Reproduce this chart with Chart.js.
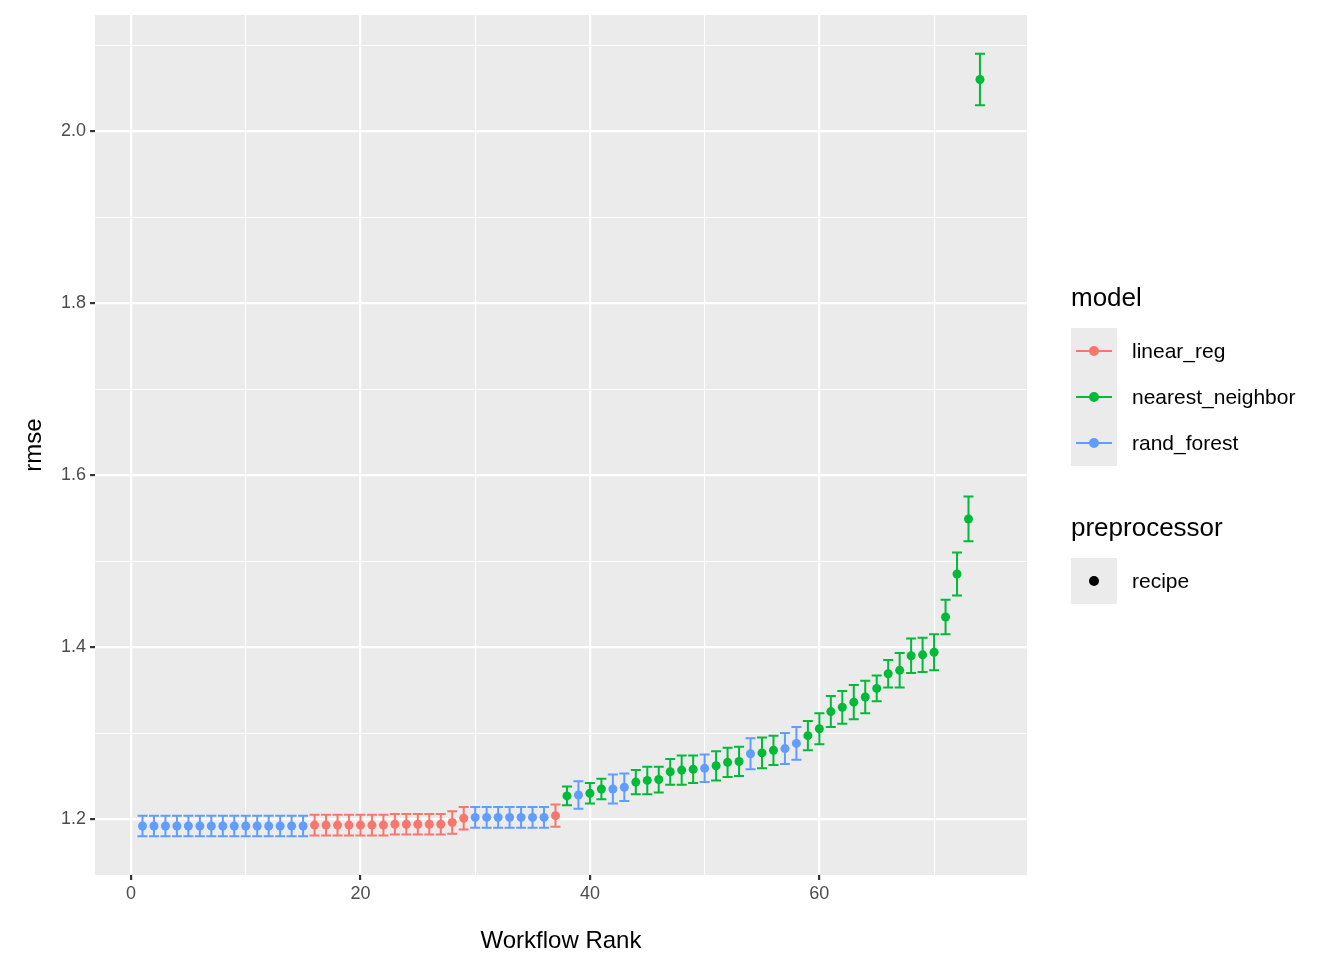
<!DOCTYPE html>
<html><head><meta charset="utf-8">
<script src="https://cdn.jsdelivr.net/npm/chart.js@4"></script>
<style>
body{margin:0;background:#fff;font-family:"Liberation Sans",Arial,sans-serif}
#wrap{position:relative;width:1344px;height:960px}
#legend{position:absolute;left:1071px;top:282px;color:#000}
.ttl{font-size:26px;margin-bottom:15px}
.key{display:flex;align-items:center;height:46px;font-size:21px}
.box{width:46px;height:46px;background:#ebebeb;position:relative;margin-right:15px}
.box .ln{position:absolute;left:5px;right:5px;top:22px;height:2px}
.box .dt{position:absolute;left:18px;top:18px;width:10px;height:10px;border-radius:50%}
</style></head><body>
<div id="wrap"><canvas id="c" width="1344" height="960"></canvas>
<div id="legend"></div></div>
<script>
const rank = Array.from({length: 74}, (_, i) => i + 1);
const rmse = [
  1.192,1.192,1.192,1.192,1.192,1.192,1.192,1.192,1.192,1.192,1.192,1.192,1.192,1.192,1.192,
  1.193,1.193,1.193,1.193,1.193,1.193,1.193,1.194,1.194,1.194,1.194,1.194,1.196,1.201,
  1.202,1.202,1.202,1.202,1.202,1.202,1.202,1.204,
  1.227,1.228,1.230,1.235,1.235,1.237,1.243,1.245,1.246,1.255,1.257,1.258,1.259,1.262,
  1.266,1.267,1.276,1.277,1.280,1.282,1.288,1.297,1.305,1.325,1.330,1.336,1.342,1.352,
  1.369,1.373,1.390,1.391,1.394,1.435,1.485,1.549,2.060
];
const stdErr = [
  0.012,0.012,0.012,0.012,0.012,0.012,0.012,0.012,0.012,0.012,0.012,0.012,0.012,0.012,0.012,
  0.012,0.012,0.012,0.012,0.012,0.012,0.012,0.012,0.012,0.012,0.012,0.012,0.013,0.013,
  0.012,0.012,0.012,0.012,0.012,0.012,0.012,0.013,
  0.011,0.016,0.012,0.012,0.017,0.016,0.014,0.016,0.015,0.015,0.017,0.016,0.016,0.017,
  0.017,0.017,0.018,0.018,0.017,0.018,0.019,0.017,0.018,0.018,0.019,0.020,0.019,0.015,
  0.016,0.020,0.020,0.020,0.021,0.020,0.025,0.026,0.030
];
const model = [];
for (let i = 1; i <= 74; i++) {
  let m = "nearest_neighbor";
  if (i <= 15) m = "rand_forest";
  else if (i <= 29) m = "linear_reg";
  else if (i <= 36) m = "rand_forest";
  else if (i === 37) m = "linear_reg";
  else if ([39, 42, 43, 50, 54, 57, 58].includes(i)) m = "rand_forest";
  model.push(m);
}
const modelNames = ["linear_reg", "nearest_neighbor", "rand_forest"];
const modelColors = {linear_reg: "#F8766D", nearest_neighbor: "#00BA38", rand_forest: "#619CFF"};

const errorBars = {
  id: "errorBars",
  beforeDraw(chart) {
    const {ctx, chartArea: a} = chart;
    ctx.save();
    ctx.fillStyle = "#ebebeb";
    ctx.fillRect(a.left, a.top, a.right - a.left, a.bottom - a.top);
    ctx.restore();
  },
  beforeDatasetsDraw(chart) {
    const {ctx, scales: {x, y}} = chart;
    ctx.save();
    ctx.lineWidth = 2;
    rank.forEach((r, i) => {
      const px = x.getPixelForValue(r);
      const lo = y.getPixelForValue(rmse[i] - stdErr[i]);
      const hi = y.getPixelForValue(rmse[i] + stdErr[i]);
      ctx.strokeStyle = modelColors[model[i]];
      ctx.beginPath();
      ctx.moveTo(px, lo); ctx.lineTo(px, hi);
      ctx.moveTo(px - 5, lo); ctx.lineTo(px + 5, lo);
      ctx.moveTo(px - 5, hi); ctx.lineTo(px + 5, hi);
      ctx.stroke();
    });
    ctx.restore();
  }
};

const major = (v, step) => Math.abs(Math.round(v / step) * step - v) < 1e-6;

new Chart(document.getElementById("c"), {
  type: "scatter",
  data: {
    datasets: [{
      data: rank.map((r, i) => ({x: r, y: rmse[i]})),
      pointBackgroundColor: model.map(m => modelColors[m]),
      pointBorderWidth: 0,
      pointRadius: 4.5
    }]
  },
  options: {
    responsive: false,
    animation: false,
    layout: {padding: {top: 15, right: 317, left: 16, bottom: 0}},
    plugins: {legend: {display: false}, tooltip: {enabled: false}},
    scales: {
      x: {
        min: -3.14, max: 78.1,
        afterBuildTicks: s => { s.ticks = [0,10,20,30,40,50,60,70].map(v => ({value: v})); },
        afterFit: s => { s.height = 85; },
        ticks: {
          color: "#4d4d4d", font: {size: 18, family: "Liberation Sans"}, padding: 3,
          callback: v => major(v, 20) ? v : ""
        },
        grid: {
          color: "#fff",
          lineWidth: c => major(c.tick.value, 20) ? 2.2 : 1.1,
          tickColor: c => major(c.tick.value, 20) ? "#333" : "rgba(0,0,0,0)",
          tickLength: 5, drawTicks: true
        },
        border: {display: false},
        title: {display: true, text: "Workflow Rank", color: "#000", font: {size: 24, family: "Liberation Sans"}, padding: {top: -4}}
      },
      y: {
        min: 1.135, max: 2.135,
        afterBuildTicks: s => { s.ticks = [1.2,1.3,1.4,1.5,1.6,1.7,1.8,1.9,2.0,2.1].map(v => ({value: v})); },
        afterFit: s => { s.width = 79; },
        ticks: {
          color: "#4d4d4d", font: {size: 18, family: "Liberation Sans"}, padding: 4,
          callback: v => major(v, 0.2) && v < 2.05 ? v.toFixed(1) : ""
        },
        grid: {
          color: "#fff",
          lineWidth: c => major(c.tick.value, 0.2) && c.tick.value < 2.05 ? 2.2 : 1.1,
          tickColor: c => major(c.tick.value, 0.2) && c.tick.value < 2.05 ? "#333" : "rgba(0,0,0,0)",
          tickLength: 5
        },
        border: {display: false},
        title: {display: true, text: "rmse", color: "#000", font: {size: 24, family: "Liberation Sans"}, padding: {bottom: 4}}
      }
    }
  },
  plugins: [errorBars]
});

let html = '<div class="ttl">model</div>';
modelNames.forEach(m => {
  html += `<div class="key"><div class="box"><div class="ln" style="background:${modelColors[m]}"></div><div class="dt" style="background:${modelColors[m]}"></div></div>${m}</div>`;
});
html += '<div class="ttl" style="margin-top:46px">preprocessor</div>';
html += '<div class="key"><div class="box"><div class="dt" style="background:#000"></div></div>recipe</div>';
document.getElementById("legend").innerHTML = html;
</script>
</body></html>
